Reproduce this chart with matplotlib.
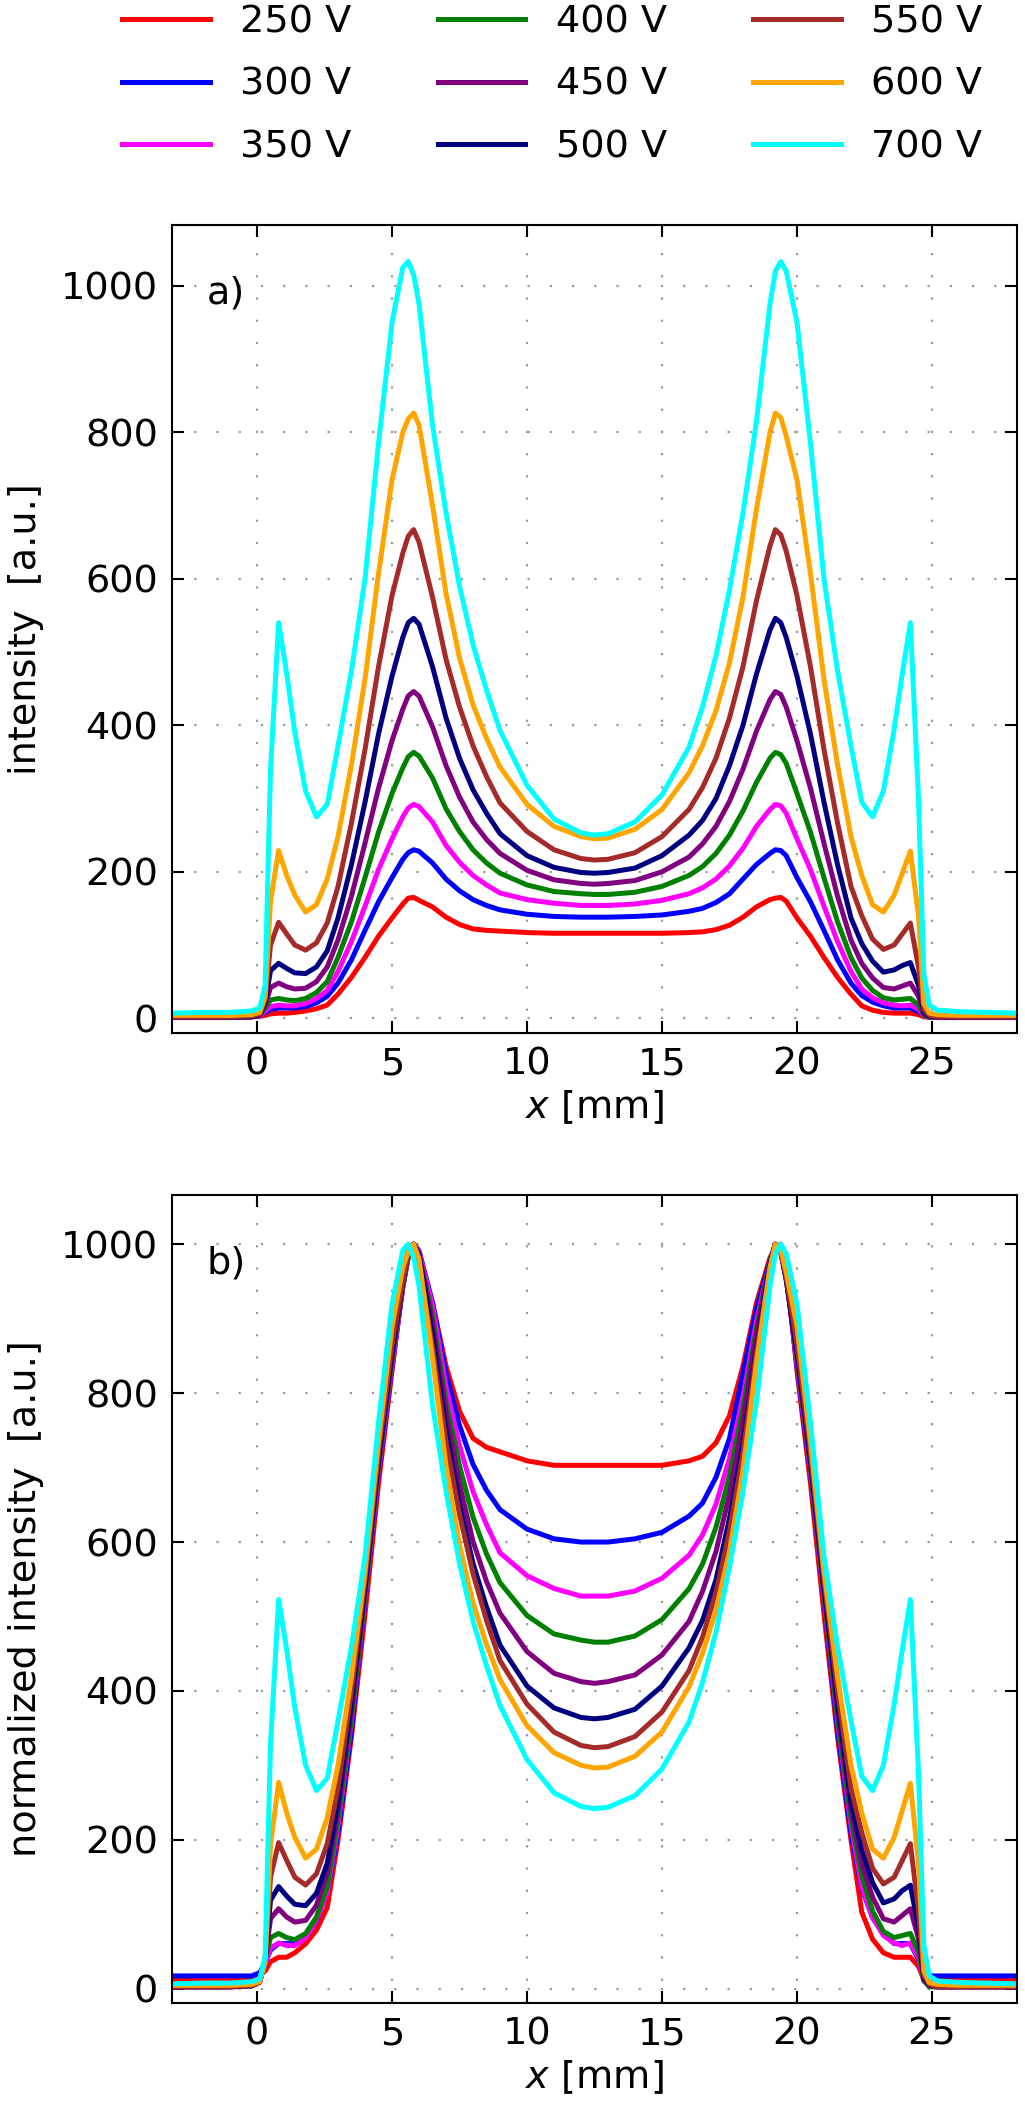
import numpy as np
import matplotlib
matplotlib.use('Agg')
import matplotlib.pyplot as plt

# positions along the profile [mm]
x_mm = [-3.2, -2.0, -1.0, -0.2, 0.1, 0.3, 0.5, 0.8, 1.1, 1.4,
        1.8, 2.2, 2.6, 3.0, 3.5, 4.0, 4.5, 5.0, 5.4, 5.6,
        5.8, 6.0, 6.5, 7.0, 7.5, 8.0, 8.5, 9.0, 10.0, 11.0,
        12.0, 12.5, 13.0, 14.0, 15.0, 16.0, 16.5, 17.0, 17.5, 18.0,
        18.5, 19.0, 19.2, 19.4, 19.6, 20.0, 20.5, 21.0, 21.5, 22.0,
        22.4, 22.8, 23.2, 23.6, 23.9, 24.2, 24.5, 24.7, 24.9, 25.2,
        26.0, 27.0, 28.2]

voltages = ['250 V', '300 V', '350 V', '400 V', '450 V', '500 V', '550 V', '600 V', '700 V']
colors = ['red', 'blue', 'magenta', 'green', 'purple', 'navy', 'brown', 'orange', 'cyan']

# raw intensity [a.u.] read from panel a)
i_250 = [2, 2, 2, 2, 3, 4, 6, 7, 7, 8,
         10, 13, 18, 33, 56, 83, 112, 137, 156, 164,
         165, 161, 152, 138, 128, 122, 120, 119, 117, 116,
         116, 116, 116, 116, 116, 117, 118, 121, 127, 138,
         152, 162, 164, 165, 160, 137, 112, 83, 56, 33,
         17, 11, 8, 7, 7, 7, 5, 2, 2, 2,
         2, 2, 2]
i_300 = [4, 4, 4, 4, 5, 8, 12, 14, 14, 14,
         16, 21, 30, 48, 80, 120, 159, 192, 217, 226,
         230, 228, 212, 190, 174, 162, 154, 148, 142, 139,
         138, 138, 138, 139, 141, 146, 150, 158, 170, 190,
         210, 225, 230, 229, 222, 192, 159, 120, 80, 48,
         31, 22, 17, 14, 14, 14, 9, 4, 4, 4,
         4, 4, 4]
i_350 = [1.5, 1.5, 1.5, 2, 3, 10, 16, 18, 17, 17,
         20, 27, 38, 64, 105, 153, 203, 245, 275, 287,
         292, 289, 268, 236, 213, 195, 182, 171, 162, 157,
         154, 154, 154, 156, 161, 170, 178, 190, 208, 232,
         262, 285, 292, 290, 280, 245, 203, 153, 105, 64,
         40, 28, 21, 18, 17, 18, 12, 3, 1.5, 1.5,
         1.5, 1.5, 1.5]
i_400 = [1, 1, 1, 2, 4, 14, 25, 27, 25, 24,
         27, 35, 50, 83, 132, 192, 254, 307, 342, 357,
         363, 358, 328, 286, 255, 230, 212, 198, 182, 173,
         170, 169, 169, 172, 180, 195, 207, 225, 250, 283,
         322, 355, 363, 360, 348, 307, 254, 192, 132, 83,
         55, 38, 28, 25, 26, 27, 18, 4, 1, 1,
         1, 1, 1]
i_450 = [1, 1, 1, 2, 4, 18, 42, 48, 43, 40,
         41, 50, 70, 107, 167, 239, 314, 379, 422, 440,
         446, 440, 398, 345, 302, 268, 244, 225, 202, 189,
         184, 183, 184, 188, 200, 220, 238, 262, 296, 340,
         392, 435, 446, 442, 425, 379, 314, 239, 167, 107,
         75, 55, 42, 40, 44, 48, 30, 6, 2, 1,
         1, 1, 1]
i_500 = [2, 2, 2, 2, 5, 22, 65, 75, 68, 62,
         61, 70, 92, 137, 210, 295, 388, 467, 520, 540,
         546, 538, 480, 410, 355, 312, 280, 252, 222, 206,
         199, 198, 199, 205, 222, 250, 270, 300, 345, 400,
         470, 530, 546, 540, 520, 467, 388, 295, 210, 137,
         102, 78, 63, 66, 72, 76, 45, 8, 3, 2,
         2, 2, 2]
i_550 = [2, 2, 2, 3, 6, 25, 100, 131, 115, 100,
         93, 103, 130, 180, 267, 367, 480, 577, 635, 658,
         667, 650, 575, 490, 425, 372, 330, 294, 255, 230,
         218, 216, 217, 226, 248, 285, 315, 355, 410, 480,
         570, 645, 667, 660, 638, 577, 480, 367, 267, 180,
         140, 108, 94, 100, 115, 130, 70, 12, 4, 2,
         2, 2, 2]
i_600 = [4, 4, 4, 5, 8, 30, 160, 229, 195, 168,
         145, 155, 190, 248, 347, 463, 607, 735, 800, 818,
         826, 810, 700, 580, 492, 428, 382, 343, 292, 262,
         248, 245, 246, 258, 285, 335, 372, 420, 485, 575,
         695, 800, 826, 820, 795, 735, 607, 463, 347, 248,
         195, 155, 145, 168, 198, 228, 140, 20, 7, 5,
         4, 4, 4]
i_700 = [7, 8, 8, 10, 14, 45, 340, 540, 470, 390,
         310, 275, 292, 372, 475, 600, 785, 950, 1025, 1033,
         1015, 975, 810, 690, 590, 510, 448, 393, 318, 272,
         253, 250, 252, 268, 305, 370, 425, 495, 585, 690,
         815, 975, 1020, 1033, 1020, 950, 785, 600, 475, 372,
         295, 275, 310, 395, 470, 540, 300, 60, 18, 11,
         9, 8, 7]

series = [i_250, i_300, i_350, i_400, i_450, i_500, i_550, i_600, i_700]

FS = 27.5

fig = plt.figure(figsize=(10.25, 21.08), dpi=100)
ax1 = fig.add_axes([0.1678, 0.5100, 0.8244, 0.3833])
ax2 = fig.add_axes([0.1678, 0.0498, 0.8244, 0.3833])

for vals, lab, col in zip(series, voltages, colors):
    y = np.array(vals, dtype=float)
    ax1.plot(x_mm, y, color=col, lw=3.6, label=lab)
    # normalized to the maximum of each profile
    ax2.plot(x_mm, y / y.max() * 1000, color=col, lw=3.6)

for ax, ylab, ylim, tag in [(ax1, 'intensity  [a.u.]', (-20, 1083), 'a)'),
                            (ax2, 'normalized intensity  [a.u.]', (-19, 1066), 'b)')]:
    ax.set_xlim(-3.15, 28.15)
    ax.set_ylim(*ylim)
    ax.set_xticks(range(0, 30, 5))
    ax.set_yticks(range(0, 1001, 200))
    ax.tick_params(direction='in', top=True, right=True, length=8.5, width=1.5,
                   labelsize=FS, pad=10)
    ax.grid(True, color='#9a9a9a', linestyle=(0, (1, 9)), linewidth=1.6)
    ax.set_axisbelow(True)
    for sp in ax.spines.values():
        sp.set_linewidth(1.5)
    ax.set_xlabel('$x$ [mm]', fontsize=FS, labelpad=4)
    ax.set_ylabel(ylab, fontsize=FS, labelpad=12)
    ax.text(0.041, 0.915, tag, transform=ax.transAxes, fontsize=FS, va='center', ha='left')

handles, labels = ax1.get_legend_handles_labels()
fig.legend(handles, labels, ncol=3, loc='upper left', bbox_to_anchor=(0.119, 0.998),
           frameon=False, fontsize=FS, borderpad=0, borderaxespad=0,
           handlelength=2.3, handletextpad=0.8, columnspacing=2.25, labelspacing=0.7)

fig.savefig('out.png', dpi=100)
